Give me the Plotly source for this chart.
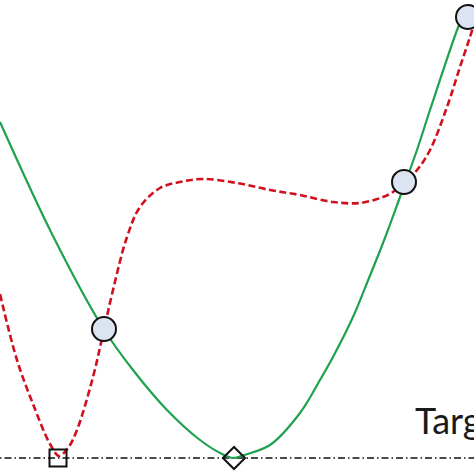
import plotly.graph_objects as go

# values measured as height above the target line (target = 0)
green_x = [0, 53, 103, 133, 167, 200, 222, 233, 244, 270, 300, 320, 333, 353, 367, 383,
           400, 417, 430, 459, 466]
green_y = [336, 222, 130, 88, 48, 18, 4, 0, 3, 13, 45, 78, 101, 141, 175, 215,
           261, 308, 348, 433, 448]

red_x = [0, 17, 33, 50, 59, 68, 77, 93, 103, 113, 127, 140, 160, 180, 203, 237, 270, 300,
         333, 360, 383, 393, 404, 417, 430, 447, 460, 470, 476]
red_y = [164, 98, 54, 14, 2, 10, 28, 81, 124, 168, 221, 251, 270, 276, 279, 275, 268, 263,
         256, 255, 261, 266, 276, 288, 308, 351, 391, 421, 440]

circle_x = [104, 404, 468]
circle_y = [129, 276, 441]

square_x = [58]
square_y = [0]
diamond_x = [234]
diamond_y = [0]

target_label = "Target"

fig = go.Figure()

fig.add_trace(go.Scatter(x=[-10, 490], y=[0, 0], mode='lines',
                         line=dict(color='#111111', width=1.3, dash='7px,3px,1.5px,3px')))
fig.add_trace(go.Scatter(x=green_x, y=green_y, mode='lines', line_shape='spline',
                         line=dict(color='#20a150', width=2.2)))
fig.add_trace(go.Scatter(x=red_x, y=red_y, mode='lines', line_shape='spline',
                         line=dict(color='#d0101e', width=2.6, dash='7px,3.5px')))
fig.add_trace(go.Scatter(x=square_x, y=square_y, mode='markers',
                         marker=dict(symbol='square-open', size=17, color='#111111',
                                     line=dict(width=2, color='#111111'))))
fig.add_trace(go.Scatter(x=diamond_x, y=diamond_y, mode='markers',
                         marker=dict(symbol='diamond-open', size=17, color='#111111',
                                     line=dict(width=2, color='#111111'))))
fig.add_trace(go.Scatter(x=circle_x, y=circle_y, mode='markers',
                         marker=dict(symbol='circle', size=24, color='#dce3f1',
                                     line=dict(width=2, color='#111111'))))

fig.add_annotation(x=413, y=38, text=target_label, showarrow=False,
                   xanchor='left', yanchor='middle',
                   font=dict(family='Lato', size=36, color='#1a1a1a'))

fig.update_layout(width=474, height=474, margin=dict(l=0, r=0, t=0, b=0),
                  plot_bgcolor='white', paper_bgcolor='white', showlegend=False,
                  xaxis=dict(range=[0, 474], visible=False),
                  yaxis=dict(range=[-16, 458], visible=False))

fig.write_html("out.html", config={'displayModeBar': False},
               post_script="document.body.style.margin='0';")
